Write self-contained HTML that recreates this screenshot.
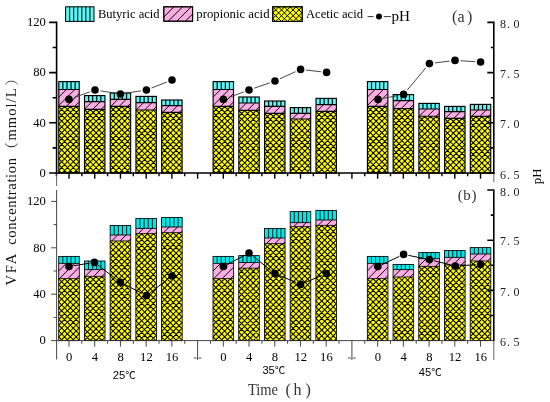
<!DOCTYPE html><html><head><meta charset="utf-8"><title>VFA concentration and pH</title><style>html,body{margin:0;padding:0;background:#fff}svg{display:block}</style></head><body><svg width="550" height="402" viewBox="0 0 550 402">
<rect width="550" height="402" fill="#fff"/>
<rect x="58.80" y="106.40" width="20.40" height="66.60" fill="#ffff00"/>
<path d="M76.0,106.4L79.2,109.6M70.2,106.4L79.2,115.4M64.4,106.4L79.2,121.2M58.8,106.6L79.2,127.0M58.8,112.4L79.2,132.8M58.8,118.2L79.2,138.6M58.8,124.0L79.2,144.4M58.8,129.8L79.2,150.2M58.8,135.6L79.2,156.0M58.8,141.4L79.2,161.8M58.8,147.2L79.2,167.6M58.8,153.0L78.8,173.0M58.8,158.8L73.0,173.0M58.8,164.6L67.2,173.0M58.8,170.4L61.4,173.0M58.8,106.6L59.0,106.4M58.8,112.4L64.8,106.4M58.8,118.2L70.6,106.4M58.8,124.0L76.4,106.4M58.8,129.8L79.2,109.4M58.8,135.6L79.2,115.2M58.8,141.4L79.2,121.0M58.8,147.2L79.2,126.8M58.8,153.0L79.2,132.6M58.8,158.8L79.2,138.4M58.8,164.6L79.2,144.2M58.8,170.4L79.2,150.0M62.0,173.0L79.2,155.8M67.8,173.0L79.2,161.6M73.6,173.0L79.2,167.4" stroke="#000" stroke-width="1.05" fill="none"/>
<rect x="58.80" y="89.50" width="20.40" height="16.90" fill="#f8aee2"/>
<path d="M58.8,97.1L66.4,89.5M58.8,105.5L74.8,89.5M66.3,106.4L79.2,93.5M74.7,106.4L79.2,101.9" stroke="#000" stroke-width="0.95" fill="none"/>
<rect x="58.80" y="81.60" width="20.40" height="7.90" fill="#5ff5f5"/>
<path d="M62.88,81.60V89.50M66.96,81.60V89.50M71.04,81.60V89.50M75.12,81.60V89.50M58.80,89.50H79.20M58.80,106.40H79.20" stroke="#000" stroke-width="1.15" fill="none"/>
<rect x="58.80" y="81.60" width="20.40" height="91.40" fill="none" stroke="#000" stroke-width="1.15"/>
<rect x="84.52" y="109.40" width="20.40" height="63.60" fill="#ffff00"/>
<path d="M101.7,109.4L104.9,112.6M95.9,109.4L104.9,118.4M90.1,109.4L104.9,124.2M84.5,109.6L104.9,130.0M84.5,115.4L104.9,135.8M84.5,121.2L104.9,141.6M84.5,127.0L104.9,147.4M84.5,132.8L104.9,153.2M84.5,138.6L104.9,159.0M84.5,144.4L104.9,164.8M84.5,150.2L104.9,170.6M84.5,156.0L101.5,173.0M84.5,161.8L95.7,173.0M84.5,167.6L89.9,173.0M84.5,109.6L84.7,109.4M84.5,115.4L90.5,109.4M84.5,121.2L96.3,109.4M84.5,127.0L102.1,109.4M84.5,132.8L104.9,112.4M84.5,138.6L104.9,118.2M84.5,144.4L104.9,124.0M84.5,150.2L104.9,129.8M84.5,156.0L104.9,135.6M84.5,161.8L104.9,141.4M84.5,167.6L104.9,147.2M84.9,173.0L104.9,153.0M90.7,173.0L104.9,158.8M96.5,173.0L104.9,164.6M102.3,173.0L104.9,170.4" stroke="#000" stroke-width="1.05" fill="none"/>
<rect x="84.52" y="101.60" width="20.40" height="7.80" fill="#f8aee2"/>
<path d="M84.5,109.2L92.1,101.6M92.7,109.4L100.5,101.6M101.1,109.4L104.9,105.6" stroke="#000" stroke-width="0.95" fill="none"/>
<rect x="84.52" y="95.60" width="20.40" height="6.00" fill="#5ff5f5"/>
<path d="M88.60,95.60V101.60M92.68,95.60V101.60M96.76,95.60V101.60M100.84,95.60V101.60M84.52,101.60H104.92M84.52,109.40H104.92" stroke="#000" stroke-width="1.15" fill="none"/>
<rect x="84.52" y="95.60" width="20.40" height="77.40" fill="none" stroke="#000" stroke-width="1.15"/>
<rect x="110.24" y="106.40" width="20.40" height="66.60" fill="#ffff00"/>
<path d="M127.4,106.4L130.6,109.6M121.6,106.4L130.6,115.4M115.8,106.4L130.6,121.2M110.2,106.6L130.6,127.0M110.2,112.4L130.6,132.8M110.2,118.2L130.6,138.6M110.2,124.0L130.6,144.4M110.2,129.8L130.6,150.2M110.2,135.6L130.6,156.0M110.2,141.4L130.6,161.8M110.2,147.2L130.6,167.6M110.2,153.0L130.2,173.0M110.2,158.8L124.4,173.0M110.2,164.6L118.6,173.0M110.2,170.4L112.8,173.0M110.2,106.6L110.4,106.4M110.2,112.4L116.2,106.4M110.2,118.2L122.0,106.4M110.2,124.0L127.8,106.4M110.2,129.8L130.6,109.4M110.2,135.6L130.6,115.2M110.2,141.4L130.6,121.0M110.2,147.2L130.6,126.8M110.2,153.0L130.6,132.6M110.2,158.8L130.6,138.4M110.2,164.6L130.6,144.2M110.2,170.4L130.6,150.0M113.4,173.0L130.6,155.8M119.2,173.0L130.6,161.6M125.0,173.0L130.6,167.4" stroke="#000" stroke-width="1.05" fill="none"/>
<rect x="110.24" y="99.40" width="20.40" height="7.00" fill="#f8aee2"/>
<path d="M110.8,106.4L117.8,99.4M119.2,106.4L126.2,99.4M127.6,106.4L130.6,103.4" stroke="#000" stroke-width="0.95" fill="none"/>
<rect x="110.24" y="93.00" width="20.40" height="6.40" fill="#5ff5f5"/>
<path d="M114.32,93.00V99.40M118.40,93.00V99.40M122.48,93.00V99.40M126.56,93.00V99.40M110.24,99.40H130.64M110.24,106.40H130.64" stroke="#000" stroke-width="1.15" fill="none"/>
<rect x="110.24" y="93.00" width="20.40" height="80.00" fill="none" stroke="#000" stroke-width="1.15"/>
<rect x="135.96" y="110.00" width="20.40" height="63.00" fill="#ffff00"/>
<path d="M153.2,110.0L156.4,113.2M147.4,110.0L156.4,119.0M141.6,110.0L156.4,124.8M136.0,110.2L156.4,130.6M136.0,116.0L156.4,136.4M136.0,121.8L156.4,142.2M136.0,127.6L156.4,148.0M136.0,133.4L156.4,153.8M136.0,139.2L156.4,159.6M136.0,145.0L156.4,165.4M136.0,150.8L156.4,171.2M136.0,156.6L152.4,173.0M136.0,162.4L146.6,173.0M136.0,168.2L140.8,173.0M136.0,110.2L136.2,110.0M136.0,116.0L142.0,110.0M136.0,121.8L147.8,110.0M136.0,127.6L153.6,110.0M136.0,133.4L156.4,113.0M136.0,139.2L156.4,118.8M136.0,145.0L156.4,124.6M136.0,150.8L156.4,130.4M136.0,156.6L156.4,136.2M136.0,162.4L156.4,142.0M136.0,168.2L156.4,147.8M137.0,173.0L156.4,153.6M142.8,173.0L156.4,159.4M148.6,173.0L156.4,165.2M154.4,173.0L156.4,171.0" stroke="#000" stroke-width="1.05" fill="none"/>
<rect x="135.96" y="102.60" width="20.40" height="7.40" fill="#f8aee2"/>
<path d="M136.2,110.0L143.6,102.6M144.6,110.0L152.0,102.6M153.0,110.0L156.4,106.6" stroke="#000" stroke-width="0.95" fill="none"/>
<rect x="135.96" y="96.40" width="20.40" height="6.20" fill="#5ff5f5"/>
<path d="M140.04,96.40V102.60M144.12,96.40V102.60M148.20,96.40V102.60M152.28,96.40V102.60M135.96,102.60H156.36M135.96,110.00H156.36" stroke="#000" stroke-width="1.15" fill="none"/>
<rect x="135.96" y="96.40" width="20.40" height="76.60" fill="none" stroke="#000" stroke-width="1.15"/>
<rect x="161.68" y="112.40" width="20.40" height="60.60" fill="#ffff00"/>
<path d="M178.9,112.4L182.1,115.6M173.1,112.4L182.1,121.4M167.3,112.4L182.1,127.2M161.7,112.6L182.1,133.0M161.7,118.4L182.1,138.8M161.7,124.2L182.1,144.6M161.7,130.0L182.1,150.4M161.7,135.8L182.1,156.2M161.7,141.6L182.1,162.0M161.7,147.4L182.1,167.8M161.7,153.2L181.5,173.0M161.7,159.0L175.7,173.0M161.7,164.8L169.9,173.0M161.7,170.6L164.1,173.0M161.7,112.6L161.9,112.4M161.7,118.4L167.7,112.4M161.7,124.2L173.5,112.4M161.7,130.0L179.3,112.4M161.7,135.8L182.1,115.4M161.7,141.6L182.1,121.2M161.7,147.4L182.1,127.0M161.7,153.2L182.1,132.8M161.7,159.0L182.1,138.6M161.7,164.8L182.1,144.4M161.7,170.6L182.1,150.2M165.1,173.0L182.1,156.0M170.9,173.0L182.1,161.8M176.7,173.0L182.1,167.6" stroke="#000" stroke-width="1.05" fill="none"/>
<rect x="161.68" y="105.60" width="20.40" height="6.80" fill="#f8aee2"/>
<path d="M162.5,112.4L169.3,105.6M170.9,112.4L177.7,105.6M179.3,112.4L182.1,109.6" stroke="#000" stroke-width="0.95" fill="none"/>
<rect x="161.68" y="100.00" width="20.40" height="5.60" fill="#5ff5f5"/>
<path d="M165.76,100.00V105.60M169.84,100.00V105.60M173.92,100.00V105.60M178.00,100.00V105.60M161.68,105.60H182.08M161.68,112.40H182.08" stroke="#000" stroke-width="1.15" fill="none"/>
<rect x="161.68" y="100.00" width="20.40" height="73.00" fill="none" stroke="#000" stroke-width="1.15"/>
<rect x="213.12" y="106.40" width="20.40" height="66.60" fill="#ffff00"/>
<path d="M230.3,106.4L233.5,109.6M224.5,106.4L233.5,115.4M218.7,106.4L233.5,121.2M213.1,106.6L233.5,127.0M213.1,112.4L233.5,132.8M213.1,118.2L233.5,138.6M213.1,124.0L233.5,144.4M213.1,129.8L233.5,150.2M213.1,135.6L233.5,156.0M213.1,141.4L233.5,161.8M213.1,147.2L233.5,167.6M213.1,153.0L233.1,173.0M213.1,158.8L227.3,173.0M213.1,164.6L221.5,173.0M213.1,170.4L215.7,173.0M213.1,106.6L213.3,106.4M213.1,112.4L219.1,106.4M213.1,118.2L224.9,106.4M213.1,124.0L230.7,106.4M213.1,129.8L233.5,109.4M213.1,135.6L233.5,115.2M213.1,141.4L233.5,121.0M213.1,147.2L233.5,126.8M213.1,153.0L233.5,132.6M213.1,158.8L233.5,138.4M213.1,164.6L233.5,144.2M213.1,170.4L233.5,150.0M216.3,173.0L233.5,155.8M222.1,173.0L233.5,161.6M227.9,173.0L233.5,167.4" stroke="#000" stroke-width="1.05" fill="none"/>
<rect x="213.12" y="89.50" width="20.40" height="16.90" fill="#f8aee2"/>
<path d="M213.1,97.1L220.7,89.5M213.1,105.5L229.1,89.5M220.6,106.4L233.5,93.5M229.0,106.4L233.5,101.9" stroke="#000" stroke-width="0.95" fill="none"/>
<rect x="213.12" y="81.60" width="20.40" height="7.90" fill="#5ff5f5"/>
<path d="M217.20,81.60V89.50M221.28,81.60V89.50M225.36,81.60V89.50M229.44,81.60V89.50M213.12,89.50H233.52M213.12,106.40H233.52" stroke="#000" stroke-width="1.15" fill="none"/>
<rect x="213.12" y="81.60" width="20.40" height="91.40" fill="none" stroke="#000" stroke-width="1.15"/>
<rect x="238.84" y="110.40" width="20.40" height="62.60" fill="#ffff00"/>
<path d="M256.0,110.4L259.2,113.6M250.2,110.4L259.2,119.4M244.4,110.4L259.2,125.2M238.8,110.6L259.2,131.0M238.8,116.4L259.2,136.8M238.8,122.2L259.2,142.6M238.8,128.0L259.2,148.4M238.8,133.8L259.2,154.2M238.8,139.6L259.2,160.0M238.8,145.4L259.2,165.8M238.8,151.2L259.2,171.6M238.8,157.0L254.8,173.0M238.8,162.8L249.0,173.0M238.8,168.6L243.2,173.0M238.8,110.6L239.0,110.4M238.8,116.4L244.8,110.4M238.8,122.2L250.6,110.4M238.8,128.0L256.4,110.4M238.8,133.8L259.2,113.4M238.8,139.6L259.2,119.2M238.8,145.4L259.2,125.0M238.8,151.2L259.2,130.8M238.8,157.0L259.2,136.6M238.8,162.8L259.2,142.4M238.8,168.6L259.2,148.2M240.2,173.0L259.2,154.0M246.0,173.0L259.2,159.8M251.8,173.0L259.2,165.6M257.6,173.0L259.2,171.4" stroke="#000" stroke-width="1.05" fill="none"/>
<rect x="238.84" y="103.00" width="20.40" height="7.40" fill="#f8aee2"/>
<path d="M239.0,110.4L246.4,103.0M247.4,110.4L254.8,103.0M255.8,110.4L259.2,107.0" stroke="#000" stroke-width="0.95" fill="none"/>
<rect x="238.84" y="97.00" width="20.40" height="6.00" fill="#5ff5f5"/>
<path d="M242.92,97.00V103.00M247.00,97.00V103.00M251.08,97.00V103.00M255.16,97.00V103.00M238.84,103.00H259.24M238.84,110.40H259.24" stroke="#000" stroke-width="1.15" fill="none"/>
<rect x="238.84" y="97.00" width="20.40" height="76.00" fill="none" stroke="#000" stroke-width="1.15"/>
<rect x="264.56" y="113.40" width="20.40" height="59.60" fill="#ffff00"/>
<path d="M281.8,113.4L285.0,116.6M276.0,113.4L285.0,122.4M270.2,113.4L285.0,128.2M264.6,113.6L285.0,134.0M264.6,119.4L285.0,139.8M264.6,125.2L285.0,145.6M264.6,131.0L285.0,151.4M264.6,136.8L285.0,157.2M264.6,142.6L285.0,163.0M264.6,148.4L285.0,168.8M264.6,154.2L283.4,173.0M264.6,160.0L277.6,173.0M264.6,165.8L271.8,173.0M264.6,171.6L266.0,173.0M264.6,113.6L264.8,113.4M264.6,119.4L270.6,113.4M264.6,125.2L276.4,113.4M264.6,131.0L282.2,113.4M264.6,136.8L285.0,116.4M264.6,142.6L285.0,122.2M264.6,148.4L285.0,128.0M264.6,154.2L285.0,133.8M264.6,160.0L285.0,139.6M264.6,165.8L285.0,145.4M264.6,171.6L285.0,151.2M269.0,173.0L285.0,157.0M274.8,173.0L285.0,162.8M280.6,173.0L285.0,168.6" stroke="#000" stroke-width="1.05" fill="none"/>
<rect x="264.56" y="106.40" width="20.40" height="7.00" fill="#f8aee2"/>
<path d="M265.2,113.4L272.2,106.4M273.6,113.4L280.6,106.4M282.0,113.4L285.0,110.4" stroke="#000" stroke-width="0.95" fill="none"/>
<rect x="264.56" y="101.00" width="20.40" height="5.40" fill="#5ff5f5"/>
<path d="M268.64,101.00V106.40M272.72,101.00V106.40M276.80,101.00V106.40M280.88,101.00V106.40M264.56,106.40H284.96M264.56,113.40H284.96" stroke="#000" stroke-width="1.15" fill="none"/>
<rect x="264.56" y="101.00" width="20.40" height="72.00" fill="none" stroke="#000" stroke-width="1.15"/>
<rect x="290.28" y="119.00" width="20.40" height="54.00" fill="#ffff00"/>
<path d="M307.5,119.0L310.7,122.2M301.7,119.0L310.7,128.0M295.9,119.0L310.7,133.8M290.3,119.2L310.7,139.6M290.3,125.0L310.7,145.4M290.3,130.8L310.7,151.2M290.3,136.6L310.7,157.0M290.3,142.4L310.7,162.8M290.3,148.2L310.7,168.6M290.3,154.0L309.3,173.0M290.3,159.8L303.5,173.0M290.3,165.6L297.7,173.0M290.3,171.4L291.9,173.0M290.3,119.2L290.5,119.0M290.3,125.0L296.3,119.0M290.3,130.8L302.1,119.0M290.3,136.6L307.9,119.0M290.3,142.4L310.7,122.0M290.3,148.2L310.7,127.8M290.3,154.0L310.7,133.6M290.3,159.8L310.7,139.4M290.3,165.6L310.7,145.2M290.3,171.4L310.7,151.0M294.5,173.0L310.7,156.8M300.3,173.0L310.7,162.6M306.1,173.0L310.7,168.4" stroke="#000" stroke-width="1.05" fill="none"/>
<rect x="290.28" y="113.40" width="20.40" height="5.60" fill="#f8aee2"/>
<path d="M292.3,119.0L297.9,113.4M300.7,119.0L306.3,113.4M309.1,119.0L310.7,117.4" stroke="#000" stroke-width="0.95" fill="none"/>
<rect x="290.28" y="107.60" width="20.40" height="5.80" fill="#5ff5f5"/>
<path d="M294.36,107.60V113.40M298.44,107.60V113.40M302.52,107.60V113.40M306.60,107.60V113.40M290.28,113.40H310.68M290.28,119.00H310.68" stroke="#000" stroke-width="1.15" fill="none"/>
<rect x="290.28" y="107.60" width="20.40" height="65.40" fill="none" stroke="#000" stroke-width="1.15"/>
<rect x="316.00" y="111.40" width="20.40" height="61.60" fill="#ffff00"/>
<path d="M333.2,111.4L336.4,114.6M327.4,111.4L336.4,120.4M321.6,111.4L336.4,126.2M316.0,111.6L336.4,132.0M316.0,117.4L336.4,137.8M316.0,123.2L336.4,143.6M316.0,129.0L336.4,149.4M316.0,134.8L336.4,155.2M316.0,140.6L336.4,161.0M316.0,146.4L336.4,166.8M316.0,152.2L336.4,172.6M316.0,158.0L331.0,173.0M316.0,163.8L325.2,173.0M316.0,169.6L319.4,173.0M316.0,111.6L316.2,111.4M316.0,117.4L322.0,111.4M316.0,123.2L327.8,111.4M316.0,129.0L333.6,111.4M316.0,134.8L336.4,114.4M316.0,140.6L336.4,120.2M316.0,146.4L336.4,126.0M316.0,152.2L336.4,131.8M316.0,158.0L336.4,137.6M316.0,163.8L336.4,143.4M316.0,169.6L336.4,149.2M318.4,173.0L336.4,155.0M324.2,173.0L336.4,160.8M330.0,173.0L336.4,166.6M335.8,173.0L336.4,172.4" stroke="#000" stroke-width="1.05" fill="none"/>
<rect x="316.00" y="104.60" width="20.40" height="6.80" fill="#f8aee2"/>
<path d="M316.8,111.4L323.6,104.6M325.2,111.4L332.0,104.6M333.6,111.4L336.4,108.6" stroke="#000" stroke-width="0.95" fill="none"/>
<rect x="316.00" y="98.40" width="20.40" height="6.20" fill="#5ff5f5"/>
<path d="M320.08,98.40V104.60M324.16,98.40V104.60M328.24,98.40V104.60M332.32,98.40V104.60M316.00,104.60H336.40M316.00,111.40H336.40" stroke="#000" stroke-width="1.15" fill="none"/>
<rect x="316.00" y="98.40" width="20.40" height="74.60" fill="none" stroke="#000" stroke-width="1.15"/>
<rect x="367.44" y="106.40" width="20.40" height="66.60" fill="#ffff00"/>
<path d="M384.6,106.4L387.8,109.6M378.8,106.4L387.8,115.4M373.0,106.4L387.8,121.2M367.4,106.6L387.8,127.0M367.4,112.4L387.8,132.8M367.4,118.2L387.8,138.6M367.4,124.0L387.8,144.4M367.4,129.8L387.8,150.2M367.4,135.6L387.8,156.0M367.4,141.4L387.8,161.8M367.4,147.2L387.8,167.6M367.4,153.0L387.4,173.0M367.4,158.8L381.6,173.0M367.4,164.6L375.8,173.0M367.4,170.4L370.0,173.0M367.4,106.6L367.6,106.4M367.4,112.4L373.4,106.4M367.4,118.2L379.2,106.4M367.4,124.0L385.0,106.4M367.4,129.8L387.8,109.4M367.4,135.6L387.8,115.2M367.4,141.4L387.8,121.0M367.4,147.2L387.8,126.8M367.4,153.0L387.8,132.6M367.4,158.8L387.8,138.4M367.4,164.6L387.8,144.2M367.4,170.4L387.8,150.0M370.6,173.0L387.8,155.8M376.4,173.0L387.8,161.6M382.2,173.0L387.8,167.4" stroke="#000" stroke-width="1.05" fill="none"/>
<rect x="367.44" y="89.50" width="20.40" height="16.90" fill="#f8aee2"/>
<path d="M367.4,97.1L375.0,89.5M367.4,105.5L383.4,89.5M374.9,106.4L387.8,93.5M383.3,106.4L387.8,101.9" stroke="#000" stroke-width="0.95" fill="none"/>
<rect x="367.44" y="81.60" width="20.40" height="7.90" fill="#5ff5f5"/>
<path d="M371.52,81.60V89.50M375.60,81.60V89.50M379.68,81.60V89.50M383.76,81.60V89.50M367.44,89.50H387.84M367.44,106.40H387.84" stroke="#000" stroke-width="1.15" fill="none"/>
<rect x="367.44" y="81.60" width="20.40" height="91.40" fill="none" stroke="#000" stroke-width="1.15"/>
<rect x="393.16" y="108.60" width="20.40" height="64.40" fill="#ffff00"/>
<path d="M410.4,108.6L413.6,111.8M404.6,108.6L413.6,117.6M398.8,108.6L413.6,123.4M393.2,108.8L413.6,129.2M393.2,114.6L413.6,135.0M393.2,120.4L413.6,140.8M393.2,126.2L413.6,146.6M393.2,132.0L413.6,152.4M393.2,137.8L413.6,158.2M393.2,143.6L413.6,164.0M393.2,149.4L413.6,169.8M393.2,155.2L411.0,173.0M393.2,161.0L405.2,173.0M393.2,166.8L399.4,173.0M393.2,172.6L393.6,173.0M393.2,108.8L393.4,108.6M393.2,114.6L399.2,108.6M393.2,120.4L405.0,108.6M393.2,126.2L410.8,108.6M393.2,132.0L413.6,111.6M393.2,137.8L413.6,117.4M393.2,143.6L413.6,123.2M393.2,149.4L413.6,129.0M393.2,155.2L413.6,134.8M393.2,161.0L413.6,140.6M393.2,166.8L413.6,146.4M393.2,172.6L413.6,152.2M398.6,173.0L413.6,158.0M404.4,173.0L413.6,163.8M410.2,173.0L413.6,169.6" stroke="#000" stroke-width="1.05" fill="none"/>
<rect x="393.16" y="100.60" width="20.40" height="8.00" fill="#f8aee2"/>
<path d="M393.2,108.2L400.8,100.6M401.2,108.6L409.2,100.6M409.6,108.6L413.6,104.6" stroke="#000" stroke-width="0.95" fill="none"/>
<rect x="393.16" y="94.60" width="20.40" height="6.00" fill="#5ff5f5"/>
<path d="M397.24,94.60V100.60M401.32,94.60V100.60M405.40,94.60V100.60M409.48,94.60V100.60M393.16,100.60H413.56M393.16,108.60H413.56" stroke="#000" stroke-width="1.15" fill="none"/>
<rect x="393.16" y="94.60" width="20.40" height="78.40" fill="none" stroke="#000" stroke-width="1.15"/>
<rect x="418.88" y="116.20" width="20.40" height="56.80" fill="#ffff00"/>
<path d="M436.1,116.2L439.3,119.4M430.3,116.2L439.3,125.2M424.5,116.2L439.3,131.0M418.9,116.4L439.3,136.8M418.9,122.2L439.3,142.6M418.9,128.0L439.3,148.4M418.9,133.8L439.3,154.2M418.9,139.6L439.3,160.0M418.9,145.4L439.3,165.8M418.9,151.2L439.3,171.6M418.9,157.0L434.9,173.0M418.9,162.8L429.1,173.0M418.9,168.6L423.3,173.0M418.9,116.4L419.1,116.2M418.9,122.2L424.9,116.2M418.9,128.0L430.7,116.2M418.9,133.8L436.5,116.2M418.9,139.6L439.3,119.2M418.9,145.4L439.3,125.0M418.9,151.2L439.3,130.8M418.9,157.0L439.3,136.6M418.9,162.8L439.3,142.4M418.9,168.6L439.3,148.2M420.3,173.0L439.3,154.0M426.1,173.0L439.3,159.8M431.9,173.0L439.3,165.6M437.7,173.0L439.3,171.4" stroke="#000" stroke-width="1.05" fill="none"/>
<rect x="418.88" y="109.00" width="20.40" height="7.20" fill="#f8aee2"/>
<path d="M419.3,116.2L426.5,109.0M427.7,116.2L434.9,109.0M436.1,116.2L439.3,113.0" stroke="#000" stroke-width="0.95" fill="none"/>
<rect x="418.88" y="103.40" width="20.40" height="5.60" fill="#5ff5f5"/>
<path d="M422.96,103.40V109.00M427.04,103.40V109.00M431.12,103.40V109.00M435.20,103.40V109.00M418.88,109.00H439.28M418.88,116.20H439.28" stroke="#000" stroke-width="1.15" fill="none"/>
<rect x="418.88" y="103.40" width="20.40" height="69.60" fill="none" stroke="#000" stroke-width="1.15"/>
<rect x="444.60" y="118.40" width="20.40" height="54.60" fill="#ffff00"/>
<path d="M461.8,118.4L465.0,121.6M456.0,118.4L465.0,127.4M450.2,118.4L465.0,133.2M444.6,118.6L465.0,139.0M444.6,124.4L465.0,144.8M444.6,130.2L465.0,150.6M444.6,136.0L465.0,156.4M444.6,141.8L465.0,162.2M444.6,147.6L465.0,168.0M444.6,153.4L464.2,173.0M444.6,159.2L458.4,173.0M444.6,165.0L452.6,173.0M444.6,170.8L446.8,173.0M444.6,118.6L444.8,118.4M444.6,124.4L450.6,118.4M444.6,130.2L456.4,118.4M444.6,136.0L462.2,118.4M444.6,141.8L465.0,121.4M444.6,147.6L465.0,127.2M444.6,153.4L465.0,133.0M444.6,159.2L465.0,138.8M444.6,165.0L465.0,144.6M444.6,170.8L465.0,150.4M448.2,173.0L465.0,156.2M454.0,173.0L465.0,162.0M459.8,173.0L465.0,167.8" stroke="#000" stroke-width="1.05" fill="none"/>
<rect x="444.60" y="111.60" width="20.40" height="6.80" fill="#f8aee2"/>
<path d="M445.4,118.4L452.2,111.6M453.8,118.4L460.6,111.6M462.2,118.4L465.0,115.6" stroke="#000" stroke-width="0.95" fill="none"/>
<rect x="444.60" y="106.40" width="20.40" height="5.20" fill="#5ff5f5"/>
<path d="M448.68,106.40V111.60M452.76,106.40V111.60M456.84,106.40V111.60M460.92,106.40V111.60M444.60,111.60H465.00M444.60,118.40H465.00" stroke="#000" stroke-width="1.15" fill="none"/>
<rect x="444.60" y="106.40" width="20.40" height="66.60" fill="none" stroke="#000" stroke-width="1.15"/>
<rect x="470.32" y="116.40" width="20.40" height="56.60" fill="#ffff00"/>
<path d="M487.5,116.4L490.7,119.6M481.7,116.4L490.7,125.4M475.9,116.4L490.7,131.2M470.3,116.6L490.7,137.0M470.3,122.4L490.7,142.8M470.3,128.2L490.7,148.6M470.3,134.0L490.7,154.4M470.3,139.8L490.7,160.2M470.3,145.6L490.7,166.0M470.3,151.4L490.7,171.8M470.3,157.2L486.1,173.0M470.3,163.0L480.3,173.0M470.3,168.8L474.5,173.0M470.3,116.6L470.5,116.4M470.3,122.4L476.3,116.4M470.3,128.2L482.1,116.4M470.3,134.0L487.9,116.4M470.3,139.8L490.7,119.4M470.3,145.6L490.7,125.2M470.3,151.4L490.7,131.0M470.3,157.2L490.7,136.8M470.3,163.0L490.7,142.6M470.3,168.8L490.7,148.4M471.9,173.0L490.7,154.2M477.7,173.0L490.7,160.0M483.5,173.0L490.7,165.8M489.3,173.0L490.7,171.6" stroke="#000" stroke-width="1.05" fill="none"/>
<rect x="470.32" y="110.00" width="20.40" height="6.40" fill="#f8aee2"/>
<path d="M471.5,116.4L477.9,110.0M479.9,116.4L486.3,110.0M488.3,116.4L490.7,114.0" stroke="#000" stroke-width="0.95" fill="none"/>
<rect x="470.32" y="104.40" width="20.40" height="5.60" fill="#5ff5f5"/>
<path d="M474.40,104.40V110.00M478.48,104.40V110.00M482.56,104.40V110.00M486.64,104.40V110.00M470.32,110.00H490.72M470.32,116.40H490.72" stroke="#000" stroke-width="1.15" fill="none"/>
<rect x="470.32" y="104.40" width="20.40" height="68.60" fill="none" stroke="#000" stroke-width="1.15"/>
<g stroke="#000" stroke-width="1.6" fill="none">
<path d="M56.60,21.6V173.8"/>
<path d="M493.80,21.6V173.8"/>
<path d="M55.80,173H494.60"/>
<path d="M49.10,22.40H56.60M487.30,22.40H493.80M52.60,47.50H56.60M490.80,47.50H493.80M49.10,72.60H56.60M487.30,72.60H493.80M52.60,97.70H56.60M490.80,97.70H493.80M49.10,122.80H56.60M487.30,122.80H493.80M52.60,147.90H56.60M490.80,147.90H493.80M49.10,173.00H56.60M487.30,173.00H493.80"/>
<path d="M69.00,173V178.8M81.86,173V176.2M94.72,173V178.8M107.58,173V176.2M120.44,173V178.8M133.30,173V176.2M146.16,173V178.8M159.02,173V176.2M171.88,173V178.8M184.74,173V176.2M197.60,173V178.8M210.46,173V176.2M223.32,173V178.8M236.18,173V176.2M249.04,173V178.8M261.90,173V176.2M274.76,173V178.8M287.62,173V176.2M300.48,173V178.8M313.34,173V176.2M326.20,173V178.8M339.06,173V176.2M351.92,173V178.8M364.78,173V176.2M377.64,173V178.8M390.50,173V176.2M403.36,173V178.8M416.22,173V176.2M429.08,173V178.8M441.94,173V176.2M454.80,173V178.8M467.66,173V176.2M480.52,173V178.8M56.44,173V176.2" stroke-width="1.4"/>
</g>
<path d="M56.60,174V186" stroke="#555" stroke-width="0.9"/>
<path d="M493.80,174V182" stroke="#555" stroke-width="0.9"/>
<line x1="74.17" y1="97.53" x2="89.83" y2="91.87" stroke="#333" stroke-width="0.9"/>
<line x1="100.43" y1="90.86" x2="114.97" y2="93.14" stroke="#333" stroke-width="0.9"/>
<line x1="125.84" y1="93.16" x2="140.96" y2="90.84" stroke="#333" stroke-width="0.9"/>
<line x1="151.52" y1="88.00" x2="166.88" y2="82.00" stroke="#333" stroke-width="0.9"/>
<line x1="228.56" y1="97.50" x2="243.84" y2="91.90" stroke="#333" stroke-width="0.9"/>
<line x1="254.20" y1="88.20" x2="269.80" y2="82.80" stroke="#333" stroke-width="0.9"/>
<line x1="280.01" y1="78.73" x2="295.59" y2="71.67" stroke="#333" stroke-width="0.9"/>
<line x1="306.06" y1="70.03" x2="321.14" y2="71.77" stroke="#333" stroke-width="0.9"/>
<line x1="383.40" y1="98.35" x2="398.20" y2="95.45" stroke="#333" stroke-width="0.9"/>
<line x1="407.13" y1="90.18" x2="425.87" y2="67.82" stroke="#333" stroke-width="0.9"/>
<line x1="434.86" y1="62.92" x2="449.54" y2="61.08" stroke="#333" stroke-width="0.9"/>
<line x1="460.49" y1="60.74" x2="475.11" y2="61.66" stroke="#333" stroke-width="0.9"/>
<circle cx="69.00" cy="99.40" r="3.8" fill="#000"/>
<circle cx="95.00" cy="90.00" r="3.8" fill="#000"/>
<circle cx="120.40" cy="94.00" r="3.8" fill="#000"/>
<circle cx="146.40" cy="90.00" r="3.8" fill="#000"/>
<circle cx="172.00" cy="80.00" r="3.8" fill="#000"/>
<circle cx="223.40" cy="99.40" r="3.8" fill="#000"/>
<circle cx="249.00" cy="90.00" r="3.8" fill="#000"/>
<circle cx="275.00" cy="81.00" r="3.8" fill="#000"/>
<circle cx="300.60" cy="69.40" r="3.8" fill="#000"/>
<circle cx="326.60" cy="72.40" r="3.8" fill="#000"/>
<circle cx="378.00" cy="99.40" r="3.8" fill="#000"/>
<circle cx="403.60" cy="94.40" r="3.8" fill="#000"/>
<circle cx="429.40" cy="63.60" r="3.8" fill="#000"/>
<circle cx="455.00" cy="60.40" r="3.8" fill="#000"/>
<circle cx="480.60" cy="62.00" r="3.8" fill="#000"/>
<rect x="58.70" y="278.60" width="20.60" height="62.00" fill="#ffff00"/>
<path d="M75.9,278.6L79.3,282.0M70.1,278.6L79.3,287.8M64.3,278.6L79.3,293.6M58.7,278.8L79.3,299.4M58.7,284.6L79.3,305.2M58.7,290.4L79.3,311.0M58.7,296.2L79.3,316.8M58.7,302.0L79.3,322.6M58.7,307.8L79.3,328.4M58.7,313.6L79.3,334.2M58.7,319.4L79.3,340.0M58.7,325.2L74.1,340.6M58.7,331.0L68.3,340.6M58.7,336.8L62.5,340.6M58.7,278.8L58.9,278.6M58.7,284.6L64.7,278.6M58.7,290.4L70.5,278.6M58.7,296.2L76.3,278.6M58.7,302.0L79.3,281.4M58.7,307.8L79.3,287.2M58.7,313.6L79.3,293.0M58.7,319.4L79.3,298.8M58.7,325.2L79.3,304.6M58.7,331.0L79.3,310.4M58.7,336.8L79.3,316.2M60.7,340.6L79.3,322.0M66.5,340.6L79.3,327.8M72.3,340.6L79.3,333.6M78.1,340.6L79.3,339.4" stroke="#000" stroke-width="1.05" fill="none"/>
<rect x="58.70" y="263.40" width="20.60" height="15.20" fill="#f8aee2"/>
<path d="M58.7,271.0L66.3,263.4M59.5,278.6L74.7,263.4M67.9,278.6L79.3,267.2M76.3,278.6L79.3,275.6" stroke="#000" stroke-width="0.95" fill="none"/>
<rect x="58.70" y="256.40" width="20.60" height="7.00" fill="#00e8e8"/>
<path d="M62.82,256.40V263.40M66.94,256.40V263.40M71.06,256.40V263.40M75.18,256.40V263.40M58.70,263.40H79.30M58.70,278.60H79.30" stroke="#000" stroke-width="0.85" fill="none"/>
<rect x="58.70" y="256.40" width="20.60" height="84.20" fill="none" stroke="#000" stroke-width="0.85"/>
<rect x="84.42" y="276.40" width="20.60" height="64.20" fill="#ffff00"/>
<path d="M101.6,276.4L105.0,279.8M95.8,276.4L105.0,285.6M90.0,276.4L105.0,291.4M84.4,276.6L105.0,297.2M84.4,282.4L105.0,303.0M84.4,288.2L105.0,308.8M84.4,294.0L105.0,314.6M84.4,299.8L105.0,320.4M84.4,305.6L105.0,326.2M84.4,311.4L105.0,332.0M84.4,317.2L105.0,337.8M84.4,323.0L102.0,340.6M84.4,328.8L96.2,340.6M84.4,334.6L90.4,340.6M84.4,340.4L84.6,340.6M84.4,276.6L84.6,276.4M84.4,282.4L90.4,276.4M84.4,288.2L96.2,276.4M84.4,294.0L102.0,276.4M84.4,299.8L105.0,279.2M84.4,305.6L105.0,285.0M84.4,311.4L105.0,290.8M84.4,317.2L105.0,296.6M84.4,323.0L105.0,302.4M84.4,328.8L105.0,308.2M84.4,334.6L105.0,314.0M84.4,340.4L105.0,319.8M90.0,340.6L105.0,325.6M95.8,340.6L105.0,331.4M101.6,340.6L105.0,337.2" stroke="#000" stroke-width="1.05" fill="none"/>
<rect x="84.42" y="269.60" width="20.60" height="6.80" fill="#f8aee2"/>
<path d="M85.2,276.4L92.0,269.6M93.6,276.4L100.4,269.6M102.0,276.4L105.0,273.4" stroke="#000" stroke-width="0.95" fill="none"/>
<rect x="84.42" y="261.00" width="20.60" height="8.60" fill="#00e8e8"/>
<path d="M88.54,261.00V269.60M92.66,261.00V269.60M96.78,261.00V269.60M100.90,261.00V269.60M84.42,269.60H105.02M84.42,276.40H105.02" stroke="#000" stroke-width="0.85" fill="none"/>
<rect x="84.42" y="261.00" width="20.60" height="79.60" fill="none" stroke="#000" stroke-width="0.85"/>
<rect x="110.14" y="241.00" width="20.60" height="99.60" fill="#ffff00"/>
<path d="M127.3,241.0L130.7,244.4M121.5,241.0L130.7,250.2M115.7,241.0L130.7,256.0M110.1,241.2L130.7,261.8M110.1,247.0L130.7,267.6M110.1,252.8L130.7,273.4M110.1,258.6L130.7,279.2M110.1,264.4L130.7,285.0M110.1,270.2L130.7,290.8M110.1,276.0L130.7,296.6M110.1,281.8L130.7,302.4M110.1,287.6L130.7,308.2M110.1,293.4L130.7,314.0M110.1,299.2L130.7,319.8M110.1,305.0L130.7,325.6M110.1,310.8L130.7,331.4M110.1,316.6L130.7,337.2M110.1,322.4L128.3,340.6M110.1,328.2L122.5,340.6M110.1,334.0L116.7,340.6M110.1,339.8L110.9,340.6M110.1,241.2L110.3,241.0M110.1,247.0L116.1,241.0M110.1,252.8L121.9,241.0M110.1,258.6L127.7,241.0M110.1,264.4L130.7,243.8M110.1,270.2L130.7,249.6M110.1,276.0L130.7,255.4M110.1,281.8L130.7,261.2M110.1,287.6L130.7,267.0M110.1,293.4L130.7,272.8M110.1,299.2L130.7,278.6M110.1,305.0L130.7,284.4M110.1,310.8L130.7,290.2M110.1,316.6L130.7,296.0M110.1,322.4L130.7,301.8M110.1,328.2L130.7,307.6M110.1,334.0L130.7,313.4M110.1,339.8L130.7,319.2M115.1,340.6L130.7,325.0M120.9,340.6L130.7,330.8M126.7,340.6L130.7,336.6" stroke="#000" stroke-width="1.05" fill="none"/>
<rect x="110.14" y="235.00" width="20.60" height="6.00" fill="#f8aee2"/>
<path d="M111.7,241.0L117.7,235.0M120.1,241.0L126.1,235.0M128.5,241.0L130.7,238.8" stroke="#000" stroke-width="0.95" fill="none"/>
<rect x="110.14" y="225.40" width="20.60" height="9.60" fill="#00e8e8"/>
<path d="M114.26,225.40V235.00M118.38,225.40V235.00M122.50,225.40V235.00M126.62,225.40V235.00M110.14,235.00H130.74M110.14,241.00H130.74" stroke="#000" stroke-width="0.85" fill="none"/>
<rect x="110.14" y="225.40" width="20.60" height="115.20" fill="none" stroke="#000" stroke-width="0.85"/>
<rect x="135.86" y="233.60" width="20.60" height="107.00" fill="#ffff00"/>
<path d="M153.1,233.6L156.5,237.0M147.3,233.6L156.5,242.8M141.5,233.6L156.5,248.6M135.9,233.8L156.5,254.4M135.9,239.6L156.5,260.2M135.9,245.4L156.5,266.0M135.9,251.2L156.5,271.8M135.9,257.0L156.5,277.6M135.9,262.8L156.5,283.4M135.9,268.6L156.5,289.2M135.9,274.4L156.5,295.0M135.9,280.2L156.5,300.8M135.9,286.0L156.5,306.6M135.9,291.8L156.5,312.4M135.9,297.6L156.5,318.2M135.9,303.4L156.5,324.0M135.9,309.2L156.5,329.8M135.9,315.0L156.5,335.6M135.9,320.8L155.7,340.6M135.9,326.6L149.9,340.6M135.9,332.4L144.1,340.6M135.9,338.2L138.3,340.6M135.9,233.8L136.1,233.6M135.9,239.6L141.9,233.6M135.9,245.4L147.7,233.6M135.9,251.2L153.5,233.6M135.9,257.0L156.5,236.4M135.9,262.8L156.5,242.2M135.9,268.6L156.5,248.0M135.9,274.4L156.5,253.8M135.9,280.2L156.5,259.6M135.9,286.0L156.5,265.4M135.9,291.8L156.5,271.2M135.9,297.6L156.5,277.0M135.9,303.4L156.5,282.8M135.9,309.2L156.5,288.6M135.9,315.0L156.5,294.4M135.9,320.8L156.5,300.2M135.9,326.6L156.5,306.0M135.9,332.4L156.5,311.8M135.9,338.2L156.5,317.6M139.3,340.6L156.5,323.4M145.1,340.6L156.5,329.2M150.9,340.6L156.5,335.0" stroke="#000" stroke-width="1.05" fill="none"/>
<rect x="135.86" y="228.40" width="20.60" height="5.20" fill="#f8aee2"/>
<path d="M138.3,233.6L143.5,228.4M146.7,233.6L151.9,228.4M155.1,233.6L156.5,232.2" stroke="#000" stroke-width="0.95" fill="none"/>
<rect x="135.86" y="218.40" width="20.60" height="10.00" fill="#00e8e8"/>
<path d="M139.98,218.40V228.40M144.10,218.40V228.40M148.22,218.40V228.40M152.34,218.40V228.40M135.86,228.40H156.46M135.86,233.60H156.46" stroke="#000" stroke-width="0.85" fill="none"/>
<rect x="135.86" y="218.40" width="20.60" height="122.20" fill="none" stroke="#000" stroke-width="0.85"/>
<rect x="161.58" y="232.60" width="20.60" height="108.00" fill="#ffff00"/>
<path d="M178.8,232.6L182.2,236.0M173.0,232.6L182.2,241.8M167.2,232.6L182.2,247.6M161.6,232.8L182.2,253.4M161.6,238.6L182.2,259.2M161.6,244.4L182.2,265.0M161.6,250.2L182.2,270.8M161.6,256.0L182.2,276.6M161.6,261.8L182.2,282.4M161.6,267.6L182.2,288.2M161.6,273.4L182.2,294.0M161.6,279.2L182.2,299.8M161.6,285.0L182.2,305.6M161.6,290.8L182.2,311.4M161.6,296.6L182.2,317.2M161.6,302.4L182.2,323.0M161.6,308.2L182.2,328.8M161.6,314.0L182.2,334.6M161.6,319.8L182.2,340.4M161.6,325.6L176.6,340.6M161.6,331.4L170.8,340.6M161.6,337.2L165.0,340.6M161.6,232.8L161.8,232.6M161.6,238.6L167.6,232.6M161.6,244.4L173.4,232.6M161.6,250.2L179.2,232.6M161.6,256.0L182.2,235.4M161.6,261.8L182.2,241.2M161.6,267.6L182.2,247.0M161.6,273.4L182.2,252.8M161.6,279.2L182.2,258.6M161.6,285.0L182.2,264.4M161.6,290.8L182.2,270.2M161.6,296.6L182.2,276.0M161.6,302.4L182.2,281.8M161.6,308.2L182.2,287.6M161.6,314.0L182.2,293.4M161.6,319.8L182.2,299.2M161.6,325.6L182.2,305.0M161.6,331.4L182.2,310.8M161.6,337.2L182.2,316.6M164.0,340.6L182.2,322.4M169.8,340.6L182.2,328.2M175.6,340.6L182.2,334.0M181.4,340.6L182.2,339.8" stroke="#000" stroke-width="1.05" fill="none"/>
<rect x="161.58" y="227.00" width="20.60" height="5.60" fill="#f8aee2"/>
<path d="M163.6,232.6L169.2,227.0M172.0,232.6L177.6,227.0M180.4,232.6L182.2,230.8" stroke="#000" stroke-width="0.95" fill="none"/>
<rect x="161.58" y="217.40" width="20.60" height="9.60" fill="#00e8e8"/>
<path d="M165.70,217.40V227.00M169.82,217.40V227.00M173.94,217.40V227.00M178.06,217.40V227.00M161.58,227.00H182.18M161.58,232.60H182.18" stroke="#000" stroke-width="0.85" fill="none"/>
<rect x="161.58" y="217.40" width="20.60" height="123.20" fill="none" stroke="#000" stroke-width="0.85"/>
<rect x="213.02" y="278.60" width="20.60" height="62.00" fill="#ffff00"/>
<path d="M230.2,278.6L233.6,282.0M224.4,278.6L233.6,287.8M218.6,278.6L233.6,293.6M213.0,278.8L233.6,299.4M213.0,284.6L233.6,305.2M213.0,290.4L233.6,311.0M213.0,296.2L233.6,316.8M213.0,302.0L233.6,322.6M213.0,307.8L233.6,328.4M213.0,313.6L233.6,334.2M213.0,319.4L233.6,340.0M213.0,325.2L228.4,340.6M213.0,331.0L222.6,340.6M213.0,336.8L216.8,340.6M213.0,278.8L213.2,278.6M213.0,284.6L219.0,278.6M213.0,290.4L224.8,278.6M213.0,296.2L230.6,278.6M213.0,302.0L233.6,281.4M213.0,307.8L233.6,287.2M213.0,313.6L233.6,293.0M213.0,319.4L233.6,298.8M213.0,325.2L233.6,304.6M213.0,331.0L233.6,310.4M213.0,336.8L233.6,316.2M215.0,340.6L233.6,322.0M220.8,340.6L233.6,327.8M226.6,340.6L233.6,333.6M232.4,340.6L233.6,339.4" stroke="#000" stroke-width="1.05" fill="none"/>
<rect x="213.02" y="263.40" width="20.60" height="15.20" fill="#f8aee2"/>
<path d="M213.0,271.0L220.6,263.4M213.8,278.6L229.0,263.4M222.2,278.6L233.6,267.2M230.6,278.6L233.6,275.6" stroke="#000" stroke-width="0.95" fill="none"/>
<rect x="213.02" y="256.40" width="20.60" height="7.00" fill="#00e8e8"/>
<path d="M217.14,256.40V263.40M221.26,256.40V263.40M225.38,256.40V263.40M229.50,256.40V263.40M213.02,263.40H233.62M213.02,278.60H233.62" stroke="#000" stroke-width="0.85" fill="none"/>
<rect x="213.02" y="256.40" width="20.60" height="84.20" fill="none" stroke="#000" stroke-width="0.85"/>
<rect x="238.74" y="268.20" width="20.60" height="72.40" fill="#ffff00"/>
<path d="M255.9,268.2L259.3,271.6M250.1,268.2L259.3,277.4M244.3,268.2L259.3,283.2M238.7,268.4L259.3,289.0M238.7,274.2L259.3,294.8M238.7,280.0L259.3,300.6M238.7,285.8L259.3,306.4M238.7,291.6L259.3,312.2M238.7,297.4L259.3,318.0M238.7,303.2L259.3,323.8M238.7,309.0L259.3,329.6M238.7,314.8L259.3,335.4M238.7,320.6L258.7,340.6M238.7,326.4L252.9,340.6M238.7,332.2L247.1,340.6M238.7,338.0L241.3,340.6M238.7,268.4L238.9,268.2M238.7,274.2L244.7,268.2M238.7,280.0L250.5,268.2M238.7,285.8L256.3,268.2M238.7,291.6L259.3,271.0M238.7,297.4L259.3,276.8M238.7,303.2L259.3,282.6M238.7,309.0L259.3,288.4M238.7,314.8L259.3,294.2M238.7,320.6L259.3,300.0M238.7,326.4L259.3,305.8M238.7,332.2L259.3,311.6M238.7,338.0L259.3,317.4M241.9,340.6L259.3,323.2M247.7,340.6L259.3,329.0M253.5,340.6L259.3,334.8" stroke="#000" stroke-width="1.05" fill="none"/>
<rect x="238.74" y="262.50" width="20.60" height="5.70" fill="#f8aee2"/>
<path d="M240.6,268.2L246.3,262.5M249.0,268.2L254.7,262.5M257.4,268.2L259.3,266.3" stroke="#000" stroke-width="0.95" fill="none"/>
<rect x="238.74" y="255.60" width="20.60" height="6.90" fill="#00e8e8"/>
<path d="M242.86,255.60V262.50M246.98,255.60V262.50M251.10,255.60V262.50M255.22,255.60V262.50M238.74,262.50H259.34M238.74,268.20H259.34" stroke="#000" stroke-width="0.85" fill="none"/>
<rect x="238.74" y="255.60" width="20.60" height="85.00" fill="none" stroke="#000" stroke-width="0.85"/>
<rect x="264.46" y="243.60" width="20.60" height="97.00" fill="#ffff00"/>
<path d="M281.7,243.6L285.1,247.0M275.9,243.6L285.1,252.8M270.1,243.6L285.1,258.6M264.5,243.8L285.1,264.4M264.5,249.6L285.1,270.2M264.5,255.4L285.1,276.0M264.5,261.2L285.1,281.8M264.5,267.0L285.1,287.6M264.5,272.8L285.1,293.4M264.5,278.6L285.1,299.2M264.5,284.4L285.1,305.0M264.5,290.2L285.1,310.8M264.5,296.0L285.1,316.6M264.5,301.8L285.1,322.4M264.5,307.6L285.1,328.2M264.5,313.4L285.1,334.0M264.5,319.2L285.1,339.8M264.5,325.0L280.1,340.6M264.5,330.8L274.3,340.6M264.5,336.6L268.5,340.6M264.5,243.8L264.7,243.6M264.5,249.6L270.5,243.6M264.5,255.4L276.3,243.6M264.5,261.2L282.1,243.6M264.5,267.0L285.1,246.4M264.5,272.8L285.1,252.2M264.5,278.6L285.1,258.0M264.5,284.4L285.1,263.8M264.5,290.2L285.1,269.6M264.5,296.0L285.1,275.4M264.5,301.8L285.1,281.2M264.5,307.6L285.1,287.0M264.5,313.4L285.1,292.8M264.5,319.2L285.1,298.6M264.5,325.0L285.1,304.4M264.5,330.8L285.1,310.2M264.5,336.6L285.1,316.0M266.3,340.6L285.1,321.8M272.1,340.6L285.1,327.6M277.9,340.6L285.1,333.4M283.7,340.6L285.1,339.2" stroke="#000" stroke-width="1.05" fill="none"/>
<rect x="264.46" y="238.00" width="20.60" height="5.60" fill="#f8aee2"/>
<path d="M266.5,243.6L272.1,238.0M274.9,243.6L280.5,238.0M283.3,243.6L285.1,241.8" stroke="#000" stroke-width="0.95" fill="none"/>
<rect x="264.46" y="228.40" width="20.60" height="9.60" fill="#00e8e8"/>
<path d="M268.58,228.40V238.00M272.70,228.40V238.00M276.82,228.40V238.00M280.94,228.40V238.00M264.46,238.00H285.06M264.46,243.60H285.06" stroke="#000" stroke-width="0.85" fill="none"/>
<rect x="264.46" y="228.40" width="20.60" height="112.20" fill="none" stroke="#000" stroke-width="0.85"/>
<rect x="290.18" y="226.60" width="20.60" height="114.00" fill="#ffff00"/>
<path d="M307.4,226.6L310.8,230.0M301.6,226.6L310.8,235.8M295.8,226.6L310.8,241.6M290.2,226.8L310.8,247.4M290.2,232.6L310.8,253.2M290.2,238.4L310.8,259.0M290.2,244.2L310.8,264.8M290.2,250.0L310.8,270.6M290.2,255.8L310.8,276.4M290.2,261.6L310.8,282.2M290.2,267.4L310.8,288.0M290.2,273.2L310.8,293.8M290.2,279.0L310.8,299.6M290.2,284.8L310.8,305.4M290.2,290.6L310.8,311.2M290.2,296.4L310.8,317.0M290.2,302.2L310.8,322.8M290.2,308.0L310.8,328.6M290.2,313.8L310.8,334.4M290.2,319.6L310.8,340.2M290.2,325.4L305.4,340.6M290.2,331.2L299.6,340.6M290.2,337.0L293.8,340.6M290.2,226.8L290.4,226.6M290.2,232.6L296.2,226.6M290.2,238.4L302.0,226.6M290.2,244.2L307.8,226.6M290.2,250.0L310.8,229.4M290.2,255.8L310.8,235.2M290.2,261.6L310.8,241.0M290.2,267.4L310.8,246.8M290.2,273.2L310.8,252.6M290.2,279.0L310.8,258.4M290.2,284.8L310.8,264.2M290.2,290.6L310.8,270.0M290.2,296.4L310.8,275.8M290.2,302.2L310.8,281.6M290.2,308.0L310.8,287.4M290.2,313.8L310.8,293.2M290.2,319.6L310.8,299.0M290.2,325.4L310.8,304.8M290.2,331.2L310.8,310.6M290.2,337.0L310.8,316.4M292.4,340.6L310.8,322.2M298.2,340.6L310.8,328.0M304.0,340.6L310.8,333.8M309.8,340.6L310.8,339.6" stroke="#000" stroke-width="1.05" fill="none"/>
<rect x="290.18" y="222.60" width="20.60" height="4.00" fill="#f8aee2"/>
<path d="M293.8,226.6L297.8,222.6M302.2,226.6L306.2,222.6M310.6,226.6L310.8,226.4" stroke="#000" stroke-width="0.95" fill="none"/>
<rect x="290.18" y="211.60" width="20.60" height="11.00" fill="#00e8e8"/>
<path d="M294.30,211.60V222.60M298.42,211.60V222.60M302.54,211.60V222.60M306.66,211.60V222.60M290.18,222.60H310.78M290.18,226.60H310.78" stroke="#000" stroke-width="0.85" fill="none"/>
<rect x="290.18" y="211.60" width="20.60" height="129.00" fill="none" stroke="#000" stroke-width="0.85"/>
<rect x="315.90" y="225.40" width="20.60" height="115.20" fill="#ffff00"/>
<path d="M333.1,225.4L336.5,228.8M327.3,225.4L336.5,234.6M321.5,225.4L336.5,240.4M315.9,225.6L336.5,246.2M315.9,231.4L336.5,252.0M315.9,237.2L336.5,257.8M315.9,243.0L336.5,263.6M315.9,248.8L336.5,269.4M315.9,254.6L336.5,275.2M315.9,260.4L336.5,281.0M315.9,266.2L336.5,286.8M315.9,272.0L336.5,292.6M315.9,277.8L336.5,298.4M315.9,283.6L336.5,304.2M315.9,289.4L336.5,310.0M315.9,295.2L336.5,315.8M315.9,301.0L336.5,321.6M315.9,306.8L336.5,327.4M315.9,312.6L336.5,333.2M315.9,318.4L336.5,339.0M315.9,324.2L332.3,340.6M315.9,330.0L326.5,340.6M315.9,335.8L320.7,340.6M315.9,225.6L316.1,225.4M315.9,231.4L321.9,225.4M315.9,237.2L327.7,225.4M315.9,243.0L333.5,225.4M315.9,248.8L336.5,228.2M315.9,254.6L336.5,234.0M315.9,260.4L336.5,239.8M315.9,266.2L336.5,245.6M315.9,272.0L336.5,251.4M315.9,277.8L336.5,257.2M315.9,283.6L336.5,263.0M315.9,289.4L336.5,268.8M315.9,295.2L336.5,274.6M315.9,301.0L336.5,280.4M315.9,306.8L336.5,286.2M315.9,312.6L336.5,292.0M315.9,318.4L336.5,297.8M315.9,324.2L336.5,303.6M315.9,330.0L336.5,309.4M315.9,335.8L336.5,315.2M316.9,340.6L336.5,321.0M322.7,340.6L336.5,326.8M328.5,340.6L336.5,332.6M334.3,340.6L336.5,338.4" stroke="#000" stroke-width="1.05" fill="none"/>
<rect x="315.90" y="220.00" width="20.60" height="5.40" fill="#f8aee2"/>
<path d="M318.1,225.4L323.5,220.0M326.5,225.4L331.9,220.0M334.9,225.4L336.5,223.8" stroke="#000" stroke-width="0.95" fill="none"/>
<rect x="315.90" y="210.40" width="20.60" height="9.60" fill="#00e8e8"/>
<path d="M320.02,210.40V220.00M324.14,210.40V220.00M328.26,210.40V220.00M332.38,210.40V220.00M315.90,220.00H336.50M315.90,225.40H336.50" stroke="#000" stroke-width="0.85" fill="none"/>
<rect x="315.90" y="210.40" width="20.60" height="130.20" fill="none" stroke="#000" stroke-width="0.85"/>
<rect x="367.34" y="278.60" width="20.60" height="62.00" fill="#ffff00"/>
<path d="M384.5,278.6L387.9,282.0M378.7,278.6L387.9,287.8M372.9,278.6L387.9,293.6M367.3,278.8L387.9,299.4M367.3,284.6L387.9,305.2M367.3,290.4L387.9,311.0M367.3,296.2L387.9,316.8M367.3,302.0L387.9,322.6M367.3,307.8L387.9,328.4M367.3,313.6L387.9,334.2M367.3,319.4L387.9,340.0M367.3,325.2L382.7,340.6M367.3,331.0L376.9,340.6M367.3,336.8L371.1,340.6M367.3,278.8L367.5,278.6M367.3,284.6L373.3,278.6M367.3,290.4L379.1,278.6M367.3,296.2L384.9,278.6M367.3,302.0L387.9,281.4M367.3,307.8L387.9,287.2M367.3,313.6L387.9,293.0M367.3,319.4L387.9,298.8M367.3,325.2L387.9,304.6M367.3,331.0L387.9,310.4M367.3,336.8L387.9,316.2M369.3,340.6L387.9,322.0M375.1,340.6L387.9,327.8M380.9,340.6L387.9,333.6M386.7,340.6L387.9,339.4" stroke="#000" stroke-width="1.05" fill="none"/>
<rect x="367.34" y="263.40" width="20.60" height="15.20" fill="#f8aee2"/>
<path d="M367.3,271.0L374.9,263.4M368.1,278.6L383.3,263.4M376.5,278.6L387.9,267.2M384.9,278.6L387.9,275.6" stroke="#000" stroke-width="0.95" fill="none"/>
<rect x="367.34" y="256.40" width="20.60" height="7.00" fill="#00e8e8"/>
<path d="M371.46,256.40V263.40M375.58,256.40V263.40M379.70,256.40V263.40M383.82,256.40V263.40M367.34,263.40H387.94M367.34,278.60H387.94" stroke="#000" stroke-width="0.85" fill="none"/>
<rect x="367.34" y="256.40" width="20.60" height="84.20" fill="none" stroke="#000" stroke-width="0.85"/>
<rect x="393.06" y="277.00" width="20.60" height="63.60" fill="#ffff00"/>
<path d="M410.3,277.0L413.7,280.4M404.5,277.0L413.7,286.2M398.7,277.0L413.7,292.0M393.1,277.2L413.7,297.8M393.1,283.0L413.7,303.6M393.1,288.8L413.7,309.4M393.1,294.6L413.7,315.2M393.1,300.4L413.7,321.0M393.1,306.2L413.7,326.8M393.1,312.0L413.7,332.6M393.1,317.8L413.7,338.4M393.1,323.6L410.1,340.6M393.1,329.4L404.3,340.6M393.1,335.2L398.5,340.6M393.1,277.2L393.3,277.0M393.1,283.0L399.1,277.0M393.1,288.8L404.9,277.0M393.1,294.6L410.7,277.0M393.1,300.4L413.7,279.8M393.1,306.2L413.7,285.6M393.1,312.0L413.7,291.4M393.1,317.8L413.7,297.2M393.1,323.6L413.7,303.0M393.1,329.4L413.7,308.8M393.1,335.2L413.7,314.6M393.5,340.6L413.7,320.4M399.3,340.6L413.7,326.2M405.1,340.6L413.7,332.0M410.9,340.6L413.7,337.8" stroke="#000" stroke-width="1.05" fill="none"/>
<rect x="393.06" y="269.60" width="20.60" height="7.40" fill="#f8aee2"/>
<path d="M393.3,277.0L400.7,269.6M401.7,277.0L409.1,269.6M410.1,277.0L413.7,273.4" stroke="#000" stroke-width="0.95" fill="none"/>
<rect x="393.06" y="264.40" width="20.60" height="5.20" fill="#00e8e8"/>
<path d="M397.18,264.40V269.60M401.30,264.40V269.60M405.42,264.40V269.60M409.54,264.40V269.60M393.06,269.60H413.66M393.06,277.00H413.66" stroke="#000" stroke-width="0.85" fill="none"/>
<rect x="393.06" y="264.40" width="20.60" height="76.20" fill="none" stroke="#000" stroke-width="0.85"/>
<rect x="418.78" y="266.40" width="20.60" height="74.20" fill="#ffff00"/>
<path d="M436.0,266.4L439.4,269.8M430.2,266.4L439.4,275.6M424.4,266.4L439.4,281.4M418.8,266.6L439.4,287.2M418.8,272.4L439.4,293.0M418.8,278.2L439.4,298.8M418.8,284.0L439.4,304.6M418.8,289.8L439.4,310.4M418.8,295.6L439.4,316.2M418.8,301.4L439.4,322.0M418.8,307.2L439.4,327.8M418.8,313.0L439.4,333.6M418.8,318.8L439.4,339.4M418.8,324.6L434.8,340.6M418.8,330.4L429.0,340.6M418.8,336.2L423.2,340.6M418.8,266.6L419.0,266.4M418.8,272.4L424.8,266.4M418.8,278.2L430.6,266.4M418.8,284.0L436.4,266.4M418.8,289.8L439.4,269.2M418.8,295.6L439.4,275.0M418.8,301.4L439.4,280.8M418.8,307.2L439.4,286.6M418.8,313.0L439.4,292.4M418.8,318.8L439.4,298.2M418.8,324.6L439.4,304.0M418.8,330.4L439.4,309.8M418.8,336.2L439.4,315.6M420.2,340.6L439.4,321.4M426.0,340.6L439.4,327.2M431.8,340.6L439.4,333.0M437.6,340.6L439.4,338.8" stroke="#000" stroke-width="1.05" fill="none"/>
<rect x="418.78" y="258.60" width="20.60" height="7.80" fill="#f8aee2"/>
<path d="M418.8,266.2L426.4,258.6M427.0,266.4L434.8,258.6M435.4,266.4L439.4,262.4" stroke="#000" stroke-width="0.95" fill="none"/>
<rect x="418.78" y="252.60" width="20.60" height="6.00" fill="#00e8e8"/>
<path d="M422.90,252.60V258.60M427.02,252.60V258.60M431.14,252.60V258.60M435.26,252.60V258.60M418.78,258.60H439.38M418.78,266.40H439.38" stroke="#000" stroke-width="0.85" fill="none"/>
<rect x="418.78" y="252.60" width="20.60" height="88.00" fill="none" stroke="#000" stroke-width="0.85"/>
<rect x="444.50" y="265.00" width="20.60" height="75.60" fill="#ffff00"/>
<path d="M461.7,265.0L465.1,268.4M455.9,265.0L465.1,274.2M450.1,265.0L465.1,280.0M444.5,265.2L465.1,285.8M444.5,271.0L465.1,291.6M444.5,276.8L465.1,297.4M444.5,282.6L465.1,303.2M444.5,288.4L465.1,309.0M444.5,294.2L465.1,314.8M444.5,300.0L465.1,320.6M444.5,305.8L465.1,326.4M444.5,311.6L465.1,332.2M444.5,317.4L465.1,338.0M444.5,323.2L461.9,340.6M444.5,329.0L456.1,340.6M444.5,334.8L450.3,340.6M444.5,265.2L444.7,265.0M444.5,271.0L450.5,265.0M444.5,276.8L456.3,265.0M444.5,282.6L462.1,265.0M444.5,288.4L465.1,267.8M444.5,294.2L465.1,273.6M444.5,300.0L465.1,279.4M444.5,305.8L465.1,285.2M444.5,311.6L465.1,291.0M444.5,317.4L465.1,296.8M444.5,323.2L465.1,302.6M444.5,329.0L465.1,308.4M444.5,334.8L465.1,314.2M444.5,340.6L465.1,320.0M450.3,340.6L465.1,325.8M456.1,340.6L465.1,331.6M461.9,340.6L465.1,337.4" stroke="#000" stroke-width="1.05" fill="none"/>
<rect x="444.50" y="257.40" width="20.60" height="7.60" fill="#f8aee2"/>
<path d="M444.5,265.0L452.1,257.4M452.9,265.0L460.5,257.4M461.3,265.0L465.1,261.2" stroke="#000" stroke-width="0.95" fill="none"/>
<rect x="444.50" y="250.60" width="20.60" height="6.80" fill="#00e8e8"/>
<path d="M448.62,250.60V257.40M452.74,250.60V257.40M456.86,250.60V257.40M460.98,250.60V257.40M444.50,257.40H465.10M444.50,265.00H465.10" stroke="#000" stroke-width="0.85" fill="none"/>
<rect x="444.50" y="250.60" width="20.60" height="90.00" fill="none" stroke="#000" stroke-width="0.85"/>
<rect x="470.22" y="261.00" width="20.60" height="79.60" fill="#ffff00"/>
<path d="M487.4,261.0L490.8,264.4M481.6,261.0L490.8,270.2M475.8,261.0L490.8,276.0M470.2,261.2L490.8,281.8M470.2,267.0L490.8,287.6M470.2,272.8L490.8,293.4M470.2,278.6L490.8,299.2M470.2,284.4L490.8,305.0M470.2,290.2L490.8,310.8M470.2,296.0L490.8,316.6M470.2,301.8L490.8,322.4M470.2,307.6L490.8,328.2M470.2,313.4L490.8,334.0M470.2,319.2L490.8,339.8M470.2,325.0L485.8,340.6M470.2,330.8L480.0,340.6M470.2,336.6L474.2,340.6M470.2,261.2L470.4,261.0M470.2,267.0L476.2,261.0M470.2,272.8L482.0,261.0M470.2,278.6L487.8,261.0M470.2,284.4L490.8,263.8M470.2,290.2L490.8,269.6M470.2,296.0L490.8,275.4M470.2,301.8L490.8,281.2M470.2,307.6L490.8,287.0M470.2,313.4L490.8,292.8M470.2,319.2L490.8,298.6M470.2,325.0L490.8,304.4M470.2,330.8L490.8,310.2M470.2,336.6L490.8,316.0M472.0,340.6L490.8,321.8M477.8,340.6L490.8,327.6M483.6,340.6L490.8,333.4M489.4,340.6L490.8,339.2" stroke="#000" stroke-width="1.05" fill="none"/>
<rect x="470.22" y="254.00" width="20.60" height="7.00" fill="#f8aee2"/>
<path d="M470.8,261.0L477.8,254.0M479.2,261.0L486.2,254.0M487.6,261.0L490.8,257.8" stroke="#000" stroke-width="0.95" fill="none"/>
<rect x="470.22" y="247.60" width="20.60" height="6.40" fill="#00e8e8"/>
<path d="M474.34,247.60V254.00M478.46,247.60V254.00M482.58,247.60V254.00M486.70,247.60V254.00M470.22,254.00H490.82M470.22,261.00H490.82" stroke="#000" stroke-width="0.85" fill="none"/>
<rect x="470.22" y="247.60" width="20.60" height="93.00" fill="none" stroke="#000" stroke-width="0.85"/>
<g stroke="#333" stroke-width="0.9" fill="none">
<path d="M56.60,190V359.5"/>
<path d="M56.60,340.6H493.80"/>
<path d="M51.10,340.60H56.60M53.60,317.40H56.60M51.10,294.20H56.60M53.60,271.00H56.60M51.10,247.80H56.60M53.60,224.60H56.60M51.10,201.40H56.60"/>
<path d="M69.00,340.6V346.6M81.86,340.6V343.8M94.72,340.6V346.6M107.58,340.6V343.8M120.44,340.6V346.6M133.30,340.6V343.8M146.16,340.6V346.6M159.02,340.6V343.8M171.88,340.6V346.6M184.74,340.6V343.8M197.60,340.6V360M193.80,358H196.60M198.60,358H201.40M210.46,340.6V343.8M223.32,340.6V346.6M236.18,340.6V343.8M249.04,340.6V346.6M261.90,340.6V343.8M274.76,340.6V346.6M287.62,340.6V343.8M300.48,340.6V346.6M313.34,340.6V343.8M326.20,340.6V346.6M339.06,340.6V343.8M351.92,340.6V360M348.12,358H350.92M352.92,358H355.72M364.78,340.6V343.8M377.64,340.6V346.6M390.50,340.6V343.8M403.36,340.6V346.6M416.22,340.6V343.8M429.08,340.6V346.6M441.94,340.6V343.8M454.80,340.6V346.6M467.66,340.6V343.8M480.52,340.6V346.6"/>
<path d="M493.80,340.6V360" stroke="#555"/>
</g>
<g stroke="#000" stroke-width="1.6" fill="none">
<path d="M493.80,189.4V341"/>
<path d="M487.30,190.00H493.80M490.80,215.10H493.80M487.30,240.20H493.80M490.80,265.30H493.80M487.30,290.40H493.80M490.80,315.50H493.80"/>
</g>
<line x1="73.74" y1="265.74" x2="89.66" y2="263.16" stroke="#000" stroke-width="1"/>
<line x1="98.20" y1="265.33" x2="116.60" y2="279.47" stroke="#000" stroke-width="1"/>
<line x1="124.69" y1="284.55" x2="142.21" y2="293.35" stroke="#000" stroke-width="1"/>
<line x1="150.31" y1="292.58" x2="168.19" y2="278.92" stroke="#000" stroke-width="1"/>
<line x1="227.65" y1="264.26" x2="244.75" y2="255.24" stroke="#000" stroke-width="1"/>
<line x1="252.76" y1="255.98" x2="271.24" y2="270.62" stroke="#000" stroke-width="1"/>
<line x1="279.42" y1="275.47" x2="296.18" y2="282.53" stroke="#000" stroke-width="1"/>
<line x1="305.03" y1="282.55" x2="321.97" y2="275.45" stroke="#000" stroke-width="1"/>
<line x1="382.14" y1="264.55" x2="399.26" y2="256.45" stroke="#000" stroke-width="1"/>
<line x1="408.31" y1="255.35" x2="424.69" y2="258.65" stroke="#000" stroke-width="1"/>
<line x1="434.06" y1="260.76" x2="450.54" y2="264.84" stroke="#000" stroke-width="1"/>
<line x1="459.99" y1="265.70" x2="475.81" y2="264.70" stroke="#000" stroke-width="1"/>
<circle cx="69.00" cy="266.50" r="3.8" fill="#000"/>
<circle cx="94.40" cy="262.40" r="3.8" fill="#000"/>
<circle cx="120.40" cy="282.40" r="3.8" fill="#000"/>
<circle cx="146.50" cy="295.50" r="3.8" fill="#000"/>
<circle cx="172.00" cy="276.00" r="3.8" fill="#000"/>
<circle cx="223.40" cy="266.50" r="3.8" fill="#000"/>
<circle cx="249.00" cy="253.00" r="3.8" fill="#000"/>
<circle cx="275.00" cy="273.60" r="3.8" fill="#000"/>
<circle cx="300.60" cy="284.40" r="3.8" fill="#000"/>
<circle cx="326.40" cy="273.60" r="3.8" fill="#000"/>
<circle cx="377.80" cy="266.60" r="3.8" fill="#000"/>
<circle cx="403.60" cy="254.40" r="3.8" fill="#000"/>
<circle cx="429.40" cy="259.60" r="3.8" fill="#000"/>
<circle cx="455.20" cy="266.00" r="3.8" fill="#000"/>
<circle cx="480.60" cy="264.40" r="3.8" fill="#000"/>
<g stroke="#000" stroke-width="1">
<rect x="65.6" y="6.8" width="28.4" height="14.6" fill="#5ff5f5"/>
<path d="M69.66,6.8V21.4M73.71,6.8V21.4M77.77,6.8V21.4M81.83,6.8V21.4M85.89,6.8V21.4M89.94,6.8V21.4" fill="none"/>
<rect x="163.8" y="6.8" width="28.8" height="14.4" fill="#f8aee2"/>
<path d="M163.8,17.0L174.0,6.8M168.2,21.2L182.6,6.8M176.8,21.2L191.2,6.8M185.4,21.2L192.6,14.0" fill="none"/>
<rect x="163.8" y="6.8" width="28.8" height="14.4" fill="none"/>
<rect x="272.8" y="6.8" width="29.4" height="14.6" fill="#ffff00"/>
<path d="M301.6,6.8L302.2,7.4M295.8,6.8L302.2,13.2M290.0,6.8L302.2,19.0M284.2,6.8L298.8,21.4M278.4,6.8L293.0,21.4M272.8,7.0L287.2,21.4M272.8,12.8L281.4,21.4M272.8,18.6L275.6,21.4M272.8,7.0L273.0,6.8M272.8,12.8L278.8,6.8M272.8,18.6L284.6,6.8M275.8,21.4L290.4,6.8M281.6,21.4L296.2,6.8M287.4,21.4L302.0,6.8M293.2,21.4L302.2,12.4M299.0,21.4L302.2,18.2" fill="none"/>
<rect x="272.8" y="6.8" width="29.4" height="14.6" fill="none"/>
</g>
<path d="M367.6,16.6H373.6M383.8,16.6H391" stroke="#222" stroke-width="0.9"/>
<circle cx="379" cy="16.6" r="3" fill="#000"/>
<g style="font-family:'Liberation Serif','Noto Serif CJK SC',serif" fill="#000">
<g font-size="12.6">
<text x="98" y="18.3" textLength="61.6" lengthAdjust="spacingAndGlyphs">Butyric acid</text>
<text x="196.3" y="18.3" textLength="73.2" lengthAdjust="spacingAndGlyphs">propionic acid</text>
<text x="306" y="18.3" textLength="57" lengthAdjust="spacingAndGlyphs">Acetic acid</text>
</g>
<text x="391.4" y="20.8" font-size="15.2">pH</text>
<g font-size="12.6" text-anchor="end">
<text x="45.8" y="26.2">120</text>
<text x="45.8" y="76.4">80</text>
<text x="45.8" y="126.6">40</text>
<text x="45.8" y="176.8">0</text>
<text x="45.8" y="205.2">120</text>
<text x="45.8" y="251.6">80</text>
<text x="45.8" y="298.0">40</text>
<text x="45.8" y="344.4">0</text>
</g>
<g font-size="12.6" text-anchor="middle">
<text x="69.2" y="360.9">0</text>
<text x="94.9" y="360.9">4</text>
<text x="120.6" y="360.9">8</text>
<text x="146.4" y="360.9">12</text>
<text x="172.1" y="360.9">16</text>
<text x="223.5" y="360.9">0</text>
<text x="249.2" y="360.9">4</text>
<text x="275.0" y="360.9">8</text>
<text x="300.7" y="360.9">12</text>
<text x="326.4" y="360.9">16</text>
<text x="377.8" y="360.9">0</text>
<text x="403.6" y="360.9">4</text>
<text x="429.3" y="360.9">8</text>
<text x="455.0" y="360.9">12</text>
<text x="480.7" y="360.9">16</text>
</g>
<g font-size="12" fill="#222">
<text y="28.0" x="500 507 507 513.6">8. 0</text>
<text y="77.8" x="500 507 507 513.6">7. 5</text>
<text y="127.8" x="500 507 507 513.6">7. 0</text>
<text y="179.0" x="500 507 507 513.6">6. 5</text>
<text y="195.8" x="500 507 507 513.6">8. 0</text>
<text y="245.4" x="500 507 507 513.6">7. 5</text>
<text y="295.6" x="500 507 507 513.6">7. 0</text>
<text y="346.4" x="500 507 507 513.6">6. 5</text>
</g>
<g font-size="16" fill="#333">
<text y="22.3" x="452 457.6 467">(a)</text>
<text y="199.8" x="457.8 463.2 471.4" font-size="15">(b)</text>
</g>
<g font-size="14.6" fill="#111">
<text transform="translate(16.4,285.6) rotate(-90)" textLength="31.8" lengthAdjust="spacing">VFA</text>
<text transform="translate(16.4,244.8) rotate(-90)" textLength="86.8" lengthAdjust="spacing">concentration</text>
<text transform="translate(16.2,156.2) rotate(-90)" font-size="14" style="font-family:'Noto Serif CJK SC',serif">（</text>
<text transform="translate(16.4,140.6) rotate(-90)" textLength="52.2" lengthAdjust="spacing">mmol/L</text>
<text transform="translate(16.2,85.5) rotate(-90)" font-size="14" style="font-family:'Noto Serif CJK SC',serif">）</text>
</g>
<text transform="translate(541.2,184.2) rotate(-90)" font-size="12.8">pH</text>
<g font-size="16" fill="#333">
<text x="248" y="395.2" textLength="30" lengthAdjust="spacingAndGlyphs">Time</text>
<text y="395.2" x="285.6 293.4 305.6">(h)</text>
</g>
</g>
<g style="font-family:'Liberation Sans','Noto Sans CJK SC',sans-serif" font-size="11.2" fill="#000">
<text x="112.8" y="379.0">25<tspan font-size="10.5" style="font-family:'Noto Sans CJK SC',sans-serif" fill="#000">℃</tspan></text>
<text x="262.4" y="374.4">35<tspan font-size="10.5" style="font-family:'Noto Sans CJK SC',sans-serif" fill="#000">℃</tspan></text>
<text x="418.8" y="376.4">45<tspan font-size="10.5" style="font-family:'Noto Sans CJK SC',sans-serif" fill="#000">℃</tspan></text>
</g>
</svg></body></html>
